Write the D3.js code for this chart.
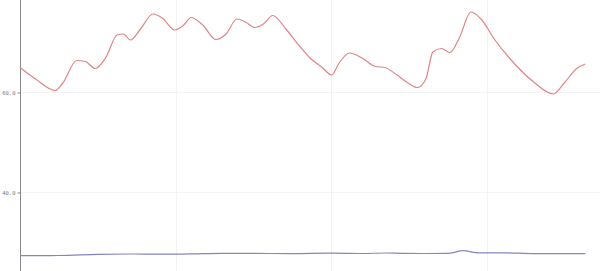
<!DOCTYPE html>
<html>
<head>
<meta charset="utf-8">
<script src="https://cdn.jsdelivr.net/npm/d3@7"></script>
<style>
  body { margin: 0; padding: 0; background: #fff; overflow: hidden; }
  svg { display: block; }
</style>
</head>
<body>
<script>
const width = 600;
const height = 271;

// red series: x position (sample units) and value
const redX = [0, 2, 4.5, 5.5, 7.3, 8.4, 9.7, 11, 12.5, 13.3, 14.2, 15.5, 17.1, 18.3, 19.9, 21, 22, 23.5, 25.2, 26.5, 27.9, 29, 30.2, 31.3, 32.5, 34.2, 36, 37.3, 38.8, 40.1, 41, 42.4, 44, 45.7, 46.9, 48.5, 50, 51.1, 52.2, 53.1, 54.2, 55.3, 56.5, 58, 59.4, 61, 63, 66, 68.6, 70, 71.6, 72.7];
const redY = [64.9, 62.6, 60.3, 61.8, 66.3, 66.1, 64.7, 66.8, 71.4, 71.6, 70.4, 72.6, 75.6, 74.8, 72.4, 73.3, 74.9, 73.4, 70.5, 71.6, 74.6, 74.0, 72.9, 73.6, 75.3, 72.6, 69.1, 66.8, 65.0, 63.4, 65.7, 67.8, 66.8, 65.1, 64.9, 63.4, 61.7, 60.9, 62.6, 68.0, 68.7, 67.9, 70.8, 76.0, 74.4, 70.6, 66.7, 62.1, 59.6, 61.8, 64.7, 65.6];

// blue series
const blueX = [0, 5, 10, 14, 18, 22, 26, 30, 35, 40, 44, 47, 49, 52, 55, 57, 59, 62, 66, 72.7];
const blueY = [27.26, 27.3, 27.54, 27.6, 27.56, 27.62, 27.74, 27.72, 27.68, 27.76, 27.7, 27.8, 27.74, 27.7, 27.72, 28.26, 27.82, 27.84, 27.68, 27.66];

const yTicks = [40, 60];
const xTicks = [0, 20, 40, 60];

const svg = d3.select("body")
    .append("svg")
    .attr("width", width)
    .attr("height", height);

const x = d3.scaleLinear()
    .domain([0, 20])
    .range([20, 175.5]);

const y = d3.scaleLinear()
    .domain([40, 60])
    .range([192, 92]);

// grid
svg.append("g")
    .selectAll("line.v")
    .data(xTicks)
    .enter()
    .append("line")
    .attr("x1", d => Math.round(x(d)) + 0.5).attr("x2", d => Math.round(x(d)) + 0.5)
    .attr("y1", 0).attr("y2", height)
    .attr("stroke", "#f3f3f3")
    .attr("stroke-width", 1);

svg.append("g")
    .selectAll("line.h")
    .data(yTicks)
    .enter()
    .append("line")
    .attr("x1", 20).attr("x2", width)
    .attr("y1", d => y(d) + 0.5).attr("y2", d => y(d) + 0.5)
    .attr("stroke", "#f3f3f3")
    .attr("stroke-width", 1);

// y axis
const yAxis = d3.axisLeft(y)
    .tickValues(yTicks)
    .tickFormat(d3.format(".1f"))
    .tickSize(3)
    .tickPadding(2);

const ax = svg.append("g")
    .attr("transform", "translate(20.5,0.5)")
    .call(yAxis);
ax.select(".domain").remove();
ax.selectAll("line").attr("stroke", "#888");
ax.selectAll("text")
    .attr("fill", "#777")
    .style("font-family", "'DejaVu Sans Mono', monospace")
    .style("font-size", "5.5px");

svg.append("line")
    .attr("x1", 20.5).attr("x2", 20.5)
    .attr("y1", 0).attr("y2", height)
    .attr("stroke", "#888")
    .attr("stroke-width", 1);

const line = d3.line()
    .x(d => x(d[0]))
    .y(d => y(d[1]))
    .curve(d3.curveMonotoneX);

svg.append("path")
    .datum(redX.map((d, i) => [d, redY[i]]))
    .attr("d", line)
    .attr("fill", "none")
    .attr("stroke", "#e08585")
    .attr("stroke-width", 1.2);

svg.append("path")
    .datum(blueX.map((d, i) => [d, blueY[i]]))
    .attr("d", line)
    .attr("fill", "none")
    .attr("stroke", "#8585c4")
    .attr("stroke-width", 1.2);
</script>
</body>
</html>
